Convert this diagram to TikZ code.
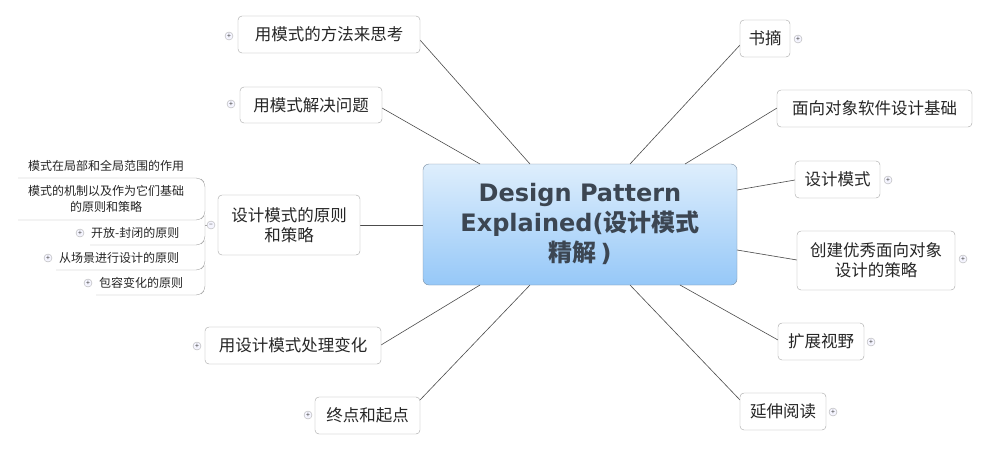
\documentclass[tikz,border=0pt]{standalone}
\usepackage{fontspec}
\setmainfont{Noto Sans CJK SC}
\newfontfamily\titlefont{DejaVu Sans}
\newfontfamily\cjkb{Noto Sans CJK SC Bold}
\begin{document}
\begin{tikzpicture}[x=1pt,y=-1pt,
  topic/.style={draw=gray!70,rounded corners=4pt,fill=white,inner sep=2pt,font=\fontsize{16.5}{20}\selectfont,text=black!85,align=center},
  pl/.style={circle,draw=gray!60,fill=blue!4,inner sep=0pt,minimum size=8pt,font=\fontsize{7}{7}\selectfont,text=gray!50!black},
  sub/.style={font=\fontsize{12}{16}\selectfont,text=black!85,align=center,inner sep=1pt},
  con/.style={draw=gray!60!black,line width=0.6pt}]
\useasboundingbox (0,0) rectangle (1000,451);
\fill[white] (0,0) rectangle (1000,451);
\def\tb#1#2#3#4#5#6{\node[topic,minimum width=#4-#2,minimum height=#5-#3] (#1) at ({(#2+#4)/2},{(#3+#5)/2}) {#6};}
% central
\shade[top color={rgb,255:red,222;green,238;blue,252},bottom color={rgb,255:red,150;green,200;blue,248},rounded corners=6pt,draw={rgb,255:red,120;green,140;blue,160}] (423,164) rectangle (737,285);
\node[font=\titlefont\bfseries\fontsize{24}{30}\selectfont,text={rgb,255:red,60;green,70;blue,82},align=center] (c) at (580,224) {Design Pattern\\Explained({\cjkb 设计模式}\\{\cjkb 精解}\,)};
\coordinate (cA) at (530,164); \coordinate (cB) at (480,164); \coordinate (cC) at (423,225);
\coordinate (cD) at (480,285); \coordinate (cE) at (530,285); \coordinate (cF) at (630,164);
\coordinate (cG) at (685,164); \coordinate (cH) at (737,190); \coordinate (cI) at (737,250);
\coordinate (cJ) at (680,285); \coordinate (cK) at (630,285);
\draw[con] (420,40)--(cA); \draw[con] (382,108)--(cB); \draw[con] (360,225)--(cC);
\draw[con] (381,345)--(cD); \draw[con] (420,400)--(cE); \draw[con] (740,45)--(cF);
\draw[con] (777,108)--(cG); \draw[con] (795,180)--(cH); \draw[con] (797,260)--(cI);
\draw[con] (778,340)--(cJ); \draw[con] (740,400)--(cK);
\tb{n1}{238}{16}{420}{53}{用模式的方法来思考}
\tb{n2}{240}{87}{382}{123}{用模式解决问题}
\tb{n3}{218}{195}{360}{255}{设计模式的原则\\和策略}
\tb{n4}{205}{327}{381}{364}{用设计模式处理变化}
\tb{n5}{315}{397}{420}{434}{终点和起点}
\tb{m1}{740}{20}{790}{57}{书摘}
\tb{m2}{777}{90}{972}{127}{面向对象软件设计基础}
\tb{m3}{795}{161}{880}{198}{设计模式}
\tb{m4}{797}{231}{955}{290}{创建优秀面向对象\\设计的策略}
\tb{m5}{778}{323}{864}{360}{扩展视野}
\tb{m6}{740}{393}{826}{430}{延伸阅读}
\foreach \n/\x/\y in {p1/229/36,p2/231/104,p4/197/346,p5/308/415,q1/798/39,q3/888/180,q4/963/259,q5/871/342,q6/833/412,s3/80/233,s4/48/258,s5/88/283}
  \node[pl] (\n) at (\x,\y) {+};
\node[pl] (mn) at (211,225) {--};
% sub-topics
\draw[gray!70,rounded corners=4pt] (18,178)--(200,178)--(205,183)--(205,215)--(200,220)--(18,220);
\draw[gray!70,rounded corners=4pt] (205,215)--(205,240)--(200,245)--(90,245);
\draw[gray!70,rounded corners=4pt] (205,240)--(205,265)--(200,270)--(56,270);
\draw[gray!70,rounded corners=4pt] (205,265)--(205,290)--(200,295)--(96,295);
\draw[gray!70] (205,225)--(mn);
\node[sub] (t1) at (106,166) {模式在局部和全局范围的作用};
\node[sub] (t2) at (106,199) {模式的机制以及作为它们基础\\的原则和策略};
\node[sub,anchor=west] (t3) at (90,233) {开放-封闭的原则};
\node[sub,anchor=west] (t4) at (58,258) {从场景进行设计的原则};
\node[sub,anchor=west] (t5) at (98,283) {包容变化的原则};
\end{tikzpicture}
\end{document}
